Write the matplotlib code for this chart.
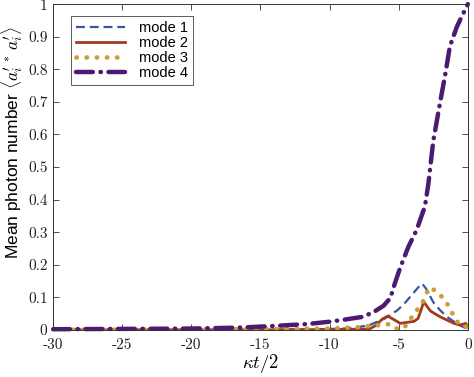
import matplotlib
matplotlib.use("Agg")
import matplotlib.pyplot as plt

plt.rcParams["mathtext.fontset"] = "cm"
plt.rcParams["axes.unicode_minus"] = False
plt.rcParams["font.family"] = ["Liberation Sans", "DejaVu Sans"]

# values
t1 = [-30, -20, -14, -11, -9, -8, -7.1, -6, -5.1, -4.5, -4.0, -3.6, -3.3, -3.0, -2.5, -2.0, -1.5, -1.0, -0.6, -0.3, 0]
mode1 = [0.0, 0.0, 0.001, 0.002, 0.004, 0.008, 0.015, 0.035, 0.06, 0.085, 0.11, 0.13, 0.142, 0.125, 0.085, 0.06, 0.04, 0.025, 0.015, 0.008, 0.004]

t2 = [-30, -15, -10, -8, -7.1, -6.6, -6.2, -5.8, -5.4, -4.9, -4.4, -3.9, -3.6, -3.35, -3.2, -3.0, -2.7, -2.4, -2.0, -1.5, -1.0, -0.6, -0.3, -0.15, 0]
mode2 = [0.0, 0.0, 0.001, 0.002, 0.003, 0.015, 0.033, 0.042, 0.033, 0.02, 0.023, 0.026, 0.035, 0.065, 0.087, 0.075, 0.058, 0.05, 0.04, 0.03, 0.02, 0.015, 0.018, 0.02, 0.01]

t3 = [-30, -15, -10, -8, -7, -6.2, -5.6, -5.0, -4.55, -4.2, -3.8, -3.35, -3.05, -2.8, -2.3, -1.66, -1.3, -0.95, -0.6, -0.3, 0]
mode3 = [0.0, 0.002, 0.004, 0.008, 0.012, 0.015, 0.018, 0.0, 0.01, 0.03, 0.055, 0.077, 0.105, 0.13, 0.12, 0.092, 0.066, 0.037, 0.015, 0.01, 0.01]

t4 = [-30, -25, -20, -16.5, -14, -11.6, -10, -9, -7.6, -6.8, -6.1, -5.6, -5.3, -4.9, -4.3, -3.7, -3.1, -2.85, -2.5, -2.0, -1.65, -1.3, -0.8, -0.35, 0]
mode4 = [0.002, 0.003, 0.004, 0.007, 0.012, 0.018, 0.025, 0.031, 0.04, 0.055, 0.074, 0.098, 0.14, 0.19, 0.255, 0.307, 0.38, 0.45, 0.58, 0.70, 0.78, 0.87, 0.93, 0.97, 1.0]

xticks = [-30, -25, -20, -15, -10, -5, 0]
yticks = [0, 0.1, 0.2, 0.3, 0.4, 0.5, 0.6, 0.7, 0.8, 0.9, 1]
ytick_labels = ["0", "0.1", "0.2", "0.3", "0.4", "0.5", "0.6", "0.7", "0.8", "0.9", "1"]

fig = plt.figure(figsize=(4.74, 3.77), dpi=100)
ax = fig.add_axes([0.112, 0.125, 0.875, 0.864])

ax.plot(t1, mode1, color="#3557a5", lw=1.6, linestyle=(0, (4, 2.2)), label="mode 1")
ax.plot(t2, mode2, color="#a23b1e", lw=2.0, label="mode 2")
ax.plot(t3, mode3, color="#c99f35", lw=3.4, linestyle=(0, (0.05, 2.1)),
        dash_capstyle="round", label="mode 3")
ax.plot(t4, mode4, color="#4b1a72", lw=3.2, linestyle=(0, (3.8, 1.7, 0.1, 1.7)),
        dash_capstyle="round", label="mode 4", clip_on=False)

ax.set_xlim(-30, 0)
ax.set_ylim(0, 1)
ax.set_xticks(xticks)
ax.set_xticklabels([str(v) for v in xticks], family="cmr10", fontsize=11)
ax.set_yticks(yticks)
ax.set_yticklabels(ytick_labels, family="cmr10", fontsize=11)
ax.tick_params(axis="x", pad=6)
ax.tick_params(axis="y", pad=4)
ax.tick_params(direction="in", top=True, right=True, length=4, width=0.6,
               colors="#333333", labelcolor="#222222")
for s in ax.spines.values():
    s.set_color("#333333")
    s.set_linewidth(0.7)

ax.set_xlabel(r"$\kappa t/2$", fontsize=13.5, labelpad=0)
ax.set_ylabel(r"Mean photon number $\langle a_i'^{\,*}\, a_i' \rangle$", fontsize=12.5)
ax.yaxis.set_label_coords(-0.068, 0.575)

leg = ax.legend(loc="upper left", bbox_to_anchor=(0.025, 0.985), fontsize=10.5,
                handlelength=3.4, handletextpad=0.9, borderpad=0.35, labelspacing=0.05,
                fancybox=False, edgecolor="#333333")
leg.get_frame().set_linewidth(0.7)

fig.savefig("out.png", dpi=100)
